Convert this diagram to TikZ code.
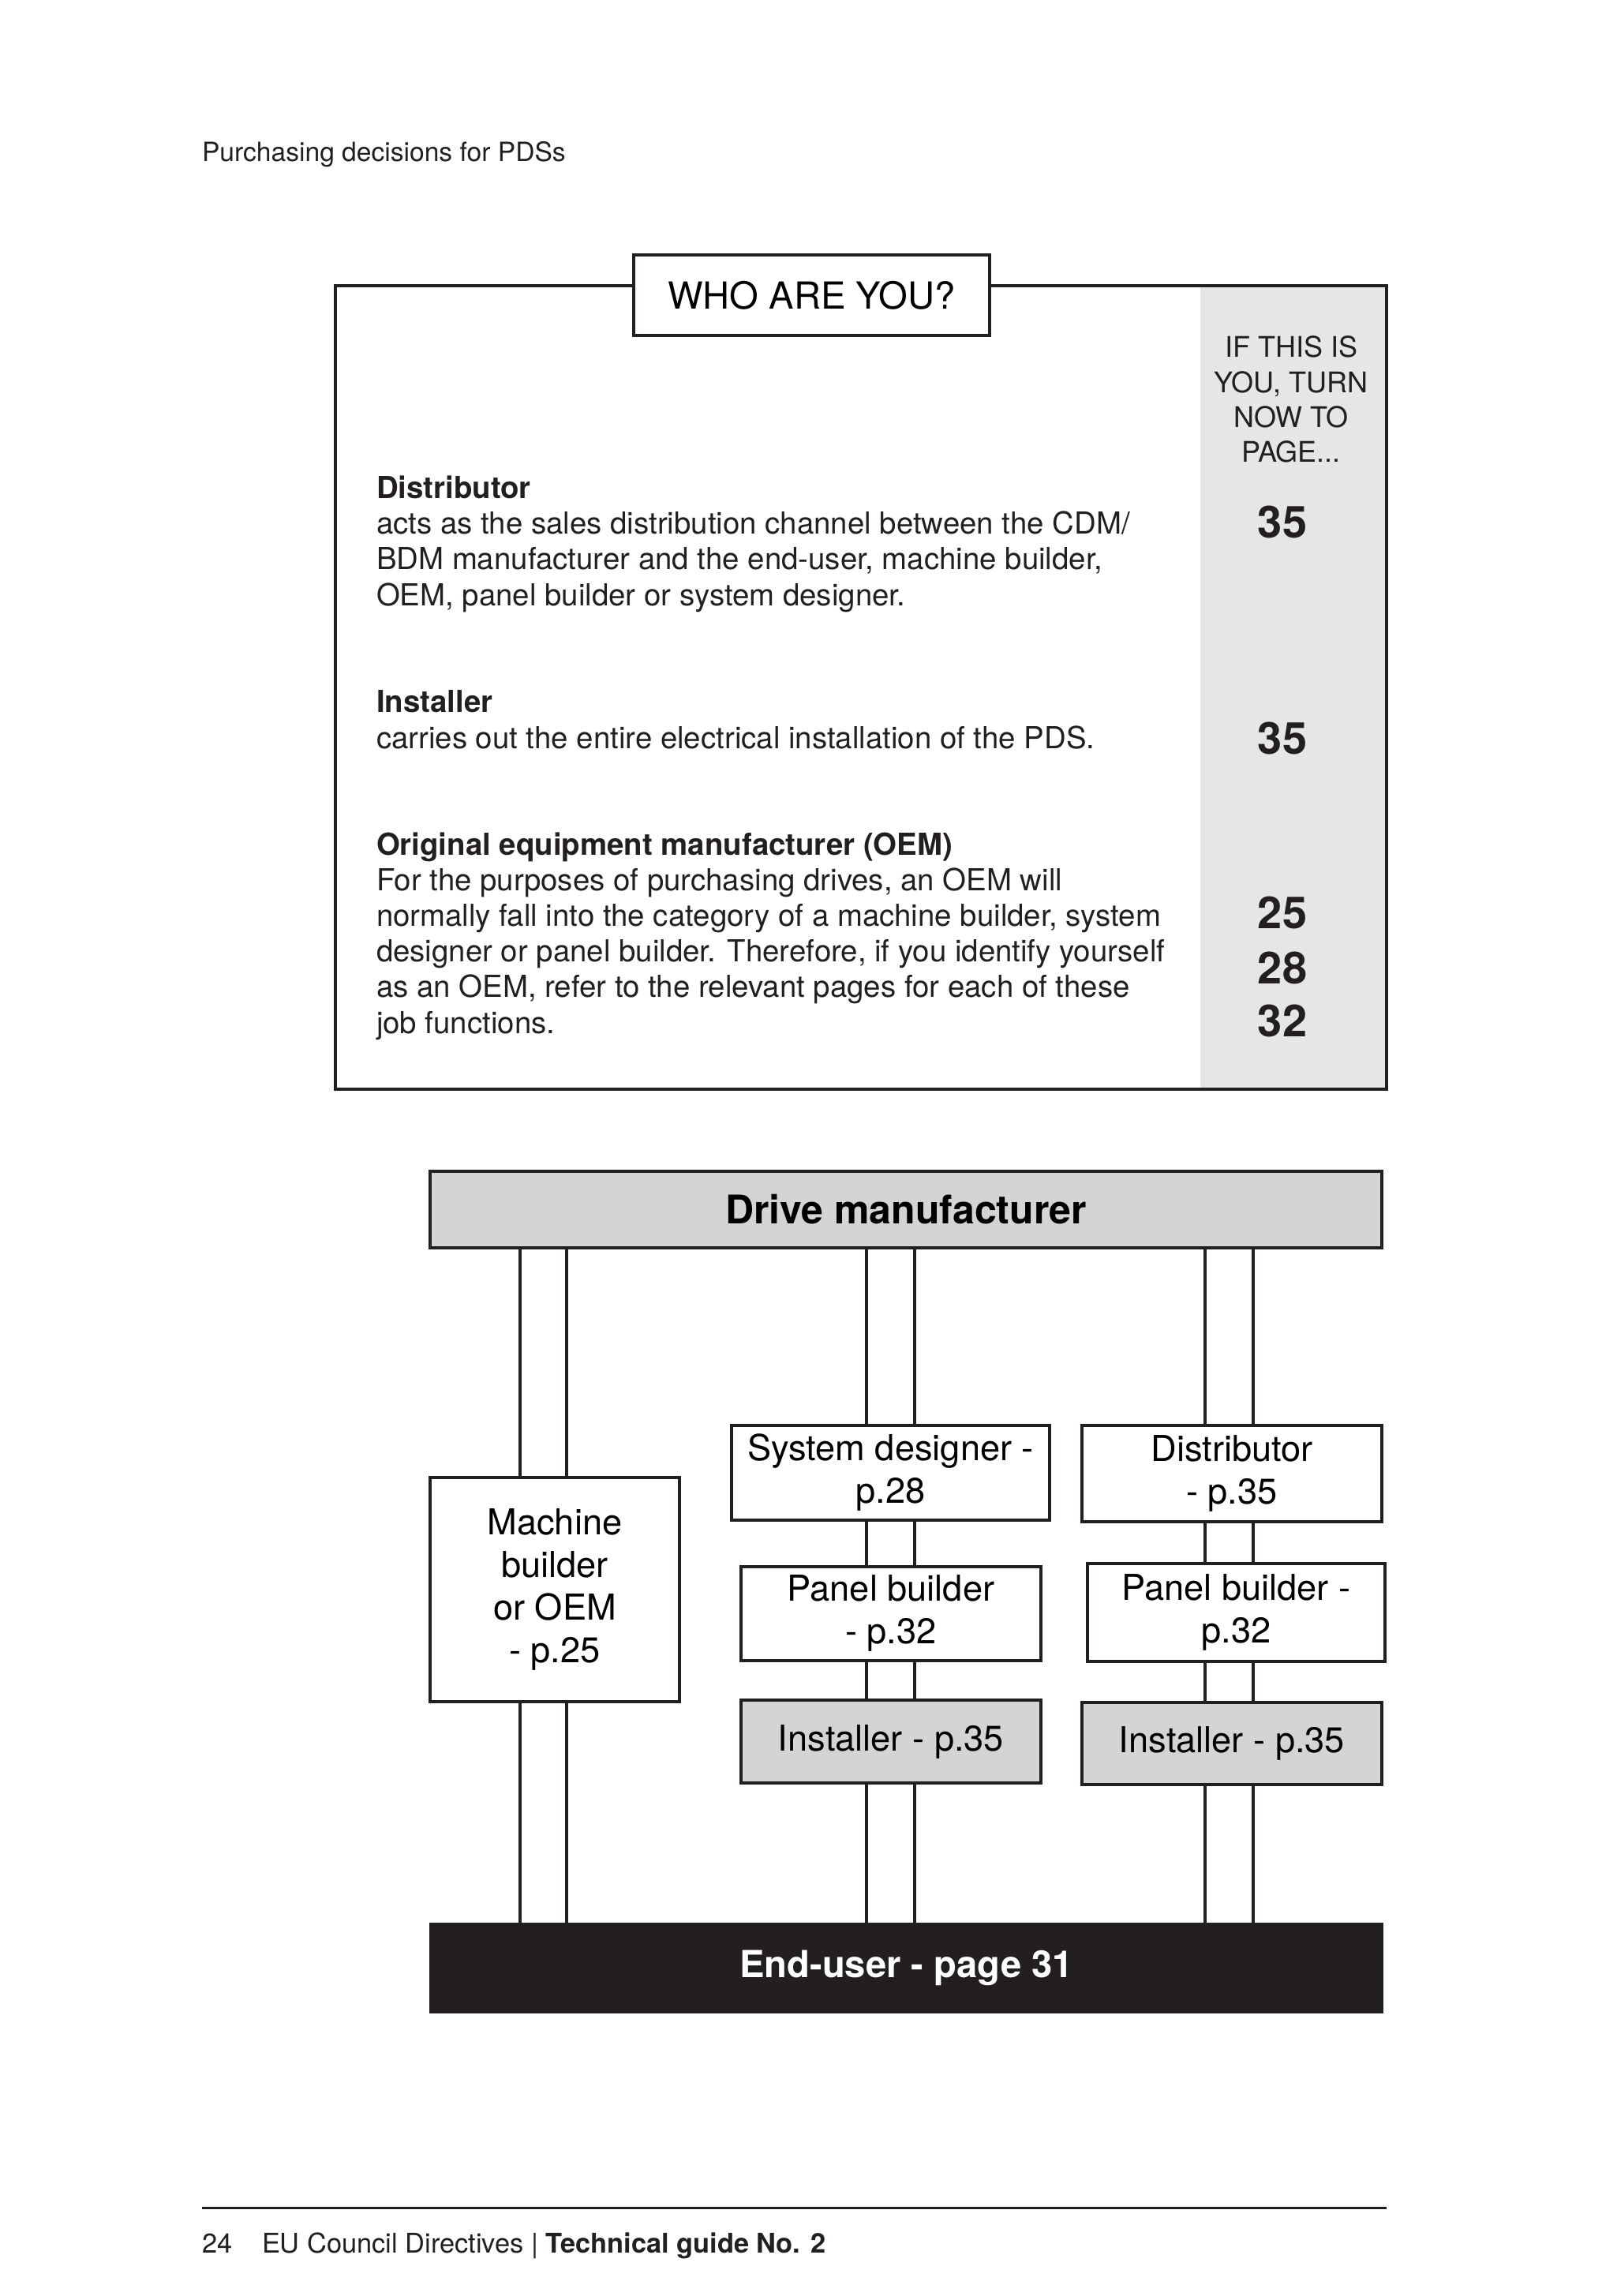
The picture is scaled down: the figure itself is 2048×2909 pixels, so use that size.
\documentclass[tikz,border=0pt]{standalone}
\usepackage{fontspec}
\setmainfont{TeX Gyre Heros}
\usetikzlibrary{backgrounds}
\definecolor{ink}{HTML}{231F20}
\definecolor{colgrey}{HTML}{E6E6E6}
\definecolor{boxgrey}{HTML}{D4D4D4}
\begin{document}
\begin{tikzpicture}[x=0.25pt,y=-0.25pt,
  txt/.style={inner sep=0pt,outer sep=0pt,text=ink},
  body/.style={txt,anchor=base west,align=left,font=\fontsize{9.6}{11.3}\selectfont},
  rect/.style={draw=ink,inner sep=0pt,outer sep=0pt},
  wbox/.style={rect,fill=white,line width=1pt,align=center,font=\fontsize{11.3}{13.5}\selectfont},
  gbox/.style={wbox,fill=boxgrey},
  pipe/.style={draw=ink,line width=0.85pt},
  num/.style={txt,anchor=base,font=\fontsize{14}{17}\bfseries}]
\useasboundingbox (0,0) rectangle (2048,2909);

% header
\node[txt,anchor=base west,font=\fontsize{8.4}{10}\selectfont] (hdr) at (256,205) {Purchasing decisions for PDSs};

% who are you panel
\node[rect,draw=none,fill=colgrey,minimum width=59pt,minimum height=254.5pt] (col) at (1639,871) {};
\node[rect,line width=0.8pt,minimum width=333pt,minimum height=254.5pt] (outer) at (1091,871) {};
\node[rect,fill=white,line width=0.9pt,minimum width=112.75pt,minimum height=25.5pt,font=\fontsize{11.8}{14}\selectfont] (who) at (1028.5,374) {WHO ARE YOU?};

\node[txt,anchor=base,align=center,font=\fontsize{9}{11.1}\selectfont] (iftxt) at (1636,586) {IF THIS IS\\YOU, TURN\\NOW TO\\PAGE...};
\node[num] (n1) at (1625,682) {35};
\node[num] (n2) at (1625,955) {35};
\node[num] (n3) at (1625,1176) {25};
\node[num] (n4) at (1625,1246) {28};
\node[num] (n5) at (1625,1313) {32};

\node[body] (pdist) at (477,767) {\textbf{Distributor}\\acts as the sales distribution channel between the CDM/\\BDM manufacturer and the end-user, machine builder,\\OEM, panel builder or system designer.};
\node[body] (pinst) at (477,948) {\textbf{Installer}\\carries out the entire electrical installation of the PDS.};
\node[body] (poem) at (477,1309) {\textbf{Original equipment manufacturer (OEM)}\\For the purposes of purchasing drives, an OEM will\\normally fall into the category of a machine builder, system\\designer or panel builder. Therefore, if you identify yourself\\as an OEM, refer to the relevant pages for each of these\\job functions.};

% diagram
\node[gbox,minimum width=301.5pt,minimum height=24.25pt,font=\fontsize{12.5}{14}\bfseries] (drive) at (1148,1532.5) {Drive manufacturer};
\node[wbox,minimum width=79pt,minimum height=71pt] (mach) at (703,2014) {Machine\\builder\\or OEM\\- p.25};
\node[wbox,minimum width=100.75pt,minimum height=30pt] (sysd) at (1128.5,1866) {System designer -\\p.28};
\node[wbox,minimum width=95pt,minimum height=30.5pt] (dist) at (1561,1867) {Distributor\\- p.35};
\node[wbox,minimum width=95pt,minimum height=29.75pt] (panm) at (1129,2044) {Panel builder\\- p.32};
\node[wbox,minimum width=94.25pt,minimum height=31pt] (panr) at (1566.5,2043) {Panel builder -\\p.32};
\node[gbox,minimum width=95pt,minimum height=26.25pt] (instm) at (1129,2206.5) {Installer - p.35};
\node[gbox,minimum width=95pt,minimum height=26pt] (instr) at (1561,2209) {Installer - p.35};
\node[rect,draw=none,fill=ink,minimum width=302.25pt,minimum height=28.75pt,text=white,font=\fontsize{11.8}{14}\bfseries] (endu) at (1148.5,2493.5) {End-user - page 31};

\coordinate (xa) at (659,0);
\coordinate (xb) at (718,0);
\coordinate (xc) at (1098,0);
\coordinate (xd) at (1159,0);
\coordinate (xe) at (1527,0);
\coordinate (xf) at (1588,0);

\begin{scope}[on background layer]
\foreach \xx in {xa,xb}{
  \draw[pipe] (drive.south -| \xx) -- (mach.north -| \xx);
  \draw[pipe] (mach.south -| \xx) -- (endu.north -| \xx);
}
\foreach \xx in {xc,xd}{
  \draw[pipe] (drive.south -| \xx) -- (sysd.north -| \xx);
  \draw[pipe] (sysd.south -| \xx) -- (panm.north -| \xx);
  \draw[pipe] (panm.south -| \xx) -- (instm.north -| \xx);
  \draw[pipe] (instm.south -| \xx) -- (endu.north -| \xx);
}
\foreach \xx in {xe,xf}{
  \draw[pipe] (drive.south -| \xx) -- (dist.north -| \xx);
  \draw[pipe] (dist.south -| \xx) -- (panr.north -| \xx);
  \draw[pipe] (panr.south -| \xx) -- (instr.north -| \xx);
  \draw[pipe] (instr.south -| \xx) -- (endu.north -| \xx);
}
\end{scope}

% footer
\coordinate (fl) at (256,2797);
\coordinate (fr) at (1757,2797);
\draw[draw=ink,line width=0.75pt] (fl) -- (fr);
\node[txt,anchor=base west,font=\fontsize{8.6}{10}\selectfont] (pg) at (256,2854) {24};
\node[txt,anchor=base west,font=\fontsize{8.6}{10}\selectfont] (ftr) at (332,2854) {EU Council Directives | \textbf{Technical guide No. 2}};
\end{tikzpicture}
\end{document}
